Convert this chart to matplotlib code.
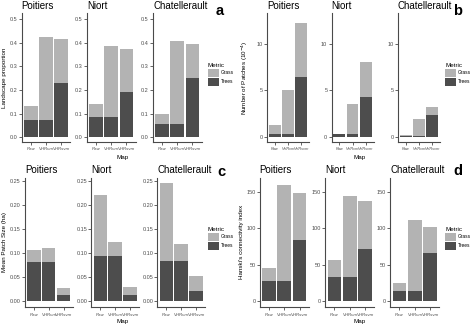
import matplotlib
matplotlib.use("Agg")
import matplotlib.pyplot as plt
from matplotlib.patches import Patch

plt.rcParams['font.family'] = ['Liberation Sans', 'DejaVu Sans']

cities = ["Poitiers", "Niort", "Chatellerault"]
maps = ["Raw", "VHRvm", "VHRsvm"]

# Panel a: Landscape proportion (per city, per map)
a_trees = [[0.073, 0.073, 0.231], [0.087, 0.087, 0.189], [0.055, 0.055, 0.252]]
a_grass = [[0.059, 0.352, 0.183], [0.052, 0.300, 0.184], [0.042, 0.352, 0.141]]
a_ticks = [0.0, 0.1, 0.2, 0.3, 0.4, 0.5]
a_ticklabels = ["0.0", "0.1", "0.2", "0.3", "0.4", "0.5"]

# Panel b: Number of patches
b_trees = [[0.29, 0.29, 6.45], [0.28, 0.28, 4.23], [0.12, 0.12, 2.33]]
b_grass = [[0.96, 4.73, 5.74], [0.05, 3.23, 3.76], [0.03, 1.74, 0.82]]
b_ticks = [0, 5, 10]
b_ticklabels = ["0", "5", "10"]

# Panel c: Mean patch size
c_trees = [[0.081, 0.081, 0.014], [0.095, 0.095, 0.014], [0.084, 0.084, 0.021]]
c_grass = [[0.026, 0.031, 0.014], [0.126, 0.029, 0.015], [0.162, 0.035, 0.032]]
c_ticks = [0.00, 0.05, 0.10, 0.15, 0.20, 0.25]
c_ticklabels = ["0.00", "0.05", "0.10", "0.15", "0.20", "0.25"]

# Panel d: Hanski's connectivity index
d_trees = [[27.2, 27.2, 83.9], [32.8, 32.8, 71.2], [13.1, 13.1, 66.5]]
d_grass = [[18.7, 133.1, 64.7], [23.4, 111.5, 66.1], [11.3, 98.9, 35.2]]
d_ticks = [0, 50, 100, 150]
d_ticklabels = ["0", "50", "100", "150"]

W, H = 474, 326
fig = plt.figure(figsize=(W / 100, H / 100), dpi=100)

GRASS = "#b3b3b3"
TREES = "#4d4d4d"
AXC = "#4a4a4a"
TXT = "#4d4d4d"


def add_ax(left, top, width, bottom):
    return fig.add_axes([left / W, 1 - bottom / H, width / W, (bottom - top) / H])


def panel(lefts, width, top, bottom, trees, grass, ylim, ticks, ticklabels,
          ylabel, ylabel_x, letter, letter_xy, map_xy, legend_xy, xfs):
    axes = []
    for i, city in enumerate(cities):
        ax = add_ax(lefts[i], top, width, bottom)
        x = list(range(len(maps)))
        ax.bar(x, trees[i], width=0.9, color=TREES, edgecolor="none")
        ax.bar(x, grass[i], bottom=trees[i], width=0.9, color=GRASS, edgecolor="none")
        ax.set_xlim(-0.6, 2.6)
        ax.set_ylim(*ylim)
        ax.set_yticks(ticks)
        ax.set_yticklabels(ticklabels)
        ax.set_xticks(x)
        ax.set_xticklabels(maps, fontstyle="italic")
        for s in ["top", "right"]:
            ax.spines[s].set_visible(False)
        for s in ["left", "bottom"]:
            ax.spines[s].set_color(AXC)
            ax.spines[s].set_linewidth(0.8)
        ax.tick_params(axis="y", labelsize=4, colors=AXC, labelcolor=TXT,
                       length=2, width=0.6, pad=1)
        ax.tick_params(axis="x", labelsize=xfs, colors=AXC, labelcolor=TXT,
                       length=2, width=0.6, pad=2)
        ax.set_title(city, loc="left", fontsize=7, pad=3)
        ax.set_facecolor("none")
        axes.append(ax)
    fig.text(ylabel_x / W, 1 - (top + bottom) / 2 / H, ylabel, rotation=90,
             fontsize=4.5, ha="center", va="center")
    fig.text(letter_xy[0] / W, 1 - letter_xy[1] / H, letter, fontsize=10.5,
             fontweight="bold", ha="center", va="center")
    fig.text(map_xy[0] / W, 1 - map_xy[1] / H, "Map", fontsize=4.5,
             ha="center", va="center")
    handles = [Patch(facecolor=GRASS, edgecolor="none", label="Grass"),
               Patch(facecolor=TREES, edgecolor="none", label="Trees")]
    fig.legend(handles=handles, title="Metric", loc="upper left",
               bbox_to_anchor=(legend_xy[0] / W, 1 - legend_xy[1] / H),
               frameon=False, fontsize=3.5, title_fontsize=4.5,
               handlelength=2.2, handleheight=2.2, labelspacing=0.15,
               handletextpad=0.5, borderpad=0, borderaxespad=0,
               alignment="left")
    return axes


panel([21.7, 87, 153], 48.5, 13, 141.7, a_trees, a_grass, (-0.019, 0.525),
      a_ticks, a_ticklabels, "Landscape proportion", 5, "a", (220, 11),
      (123, 158), (208, 63), 3.2)

panel([267, 331.5, 398], 42, 13, 141.7, b_trees, b_grass, (-0.54, 13.3),
      b_ticks, b_ticklabels, "Number of Patches (10$^{-4}$)", 245, "b", (458, 11),
      (360, 158), (445, 63), 2.8)

panel([25, 91.3, 157.3], 47.5, 177.5, 307, c_trees, c_grass, (-0.0119, 0.258),
      c_ticks, c_ticklabels, "Mean Patch Size (ha)", 5, "c", (221, 172),
      (123, 322), (208, 227), 3.2)

panel([259.7, 325.3, 390.3], 49, 177.5, 307, d_trees, d_grass, (-8.5, 170),
      d_ticks, d_ticklabels, "Hanski's connectivity index", 241, "d", (458, 171),
      (360, 322), (445, 227), 3.2)

fig.savefig("out.png", dpi=100)
